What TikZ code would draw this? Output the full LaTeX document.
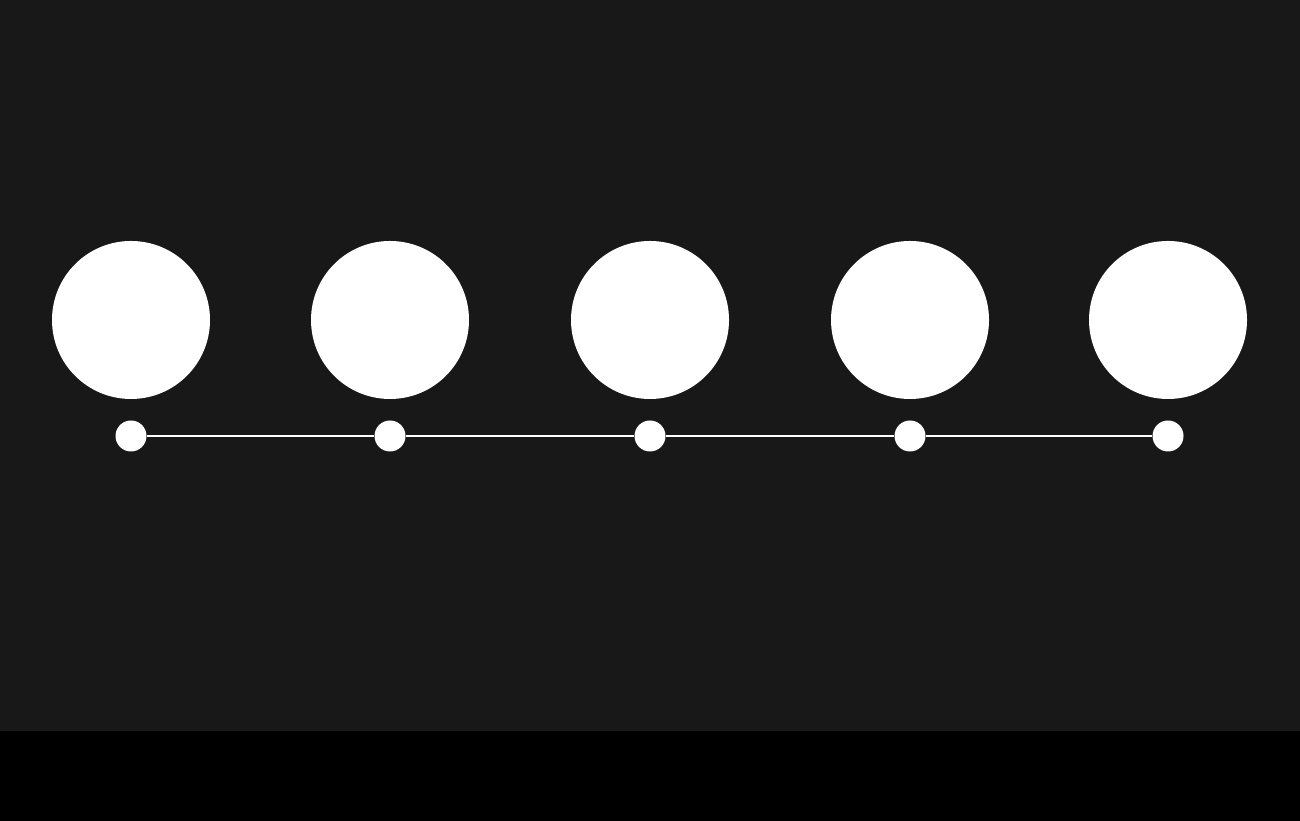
\documentclass[tikz,border=0pt]{standalone}
\usepackage{tikz}
\usetikzlibrary{positioning}
\definecolor{bgdark}{HTML}{181818}
\tikzset{
  bigdot/.style={circle, fill=white, draw=none, minimum size=1.58cm, inner sep=0pt},
  smalldot/.style={circle, fill=white, draw=none, minimum size=0.31cm, inner sep=0pt},
  timeline/.style={white, line width=0.45pt}
}
\begin{document}
\begin{tikzpicture}
  \useasboundingbox (0,0) rectangle (13,8.21);
  % background and bottom band
  \fill[bgdark] (-0.05,-0.05) rectangle (13.05,8.26);
  \fill[black] (-0.05,-0.05) rectangle (13.05,0.90);

  % big circles
  \node[bigdot] (c1) at (1.31,5.01) {};
  \node[bigdot] (c2) at (3.90,5.01) {};
  \node[bigdot] (c3) at (6.50,5.01) {};
  \node[bigdot] (c4) at (9.10,5.01) {};
  \node[bigdot] (c5) at (11.68,5.01) {};

  % timeline dots
  \node[smalldot] (d1) at (1.31,3.85) {};
  \node[smalldot] (d2) at (3.90,3.85) {};
  \node[smalldot] (d3) at (6.50,3.85) {};
  \node[smalldot] (d4) at (9.10,3.85) {};
  \node[smalldot] (d5) at (11.68,3.85) {};

  \draw[timeline] (d1) -- (d2);
  \draw[timeline] (d2) -- (d3);
  \draw[timeline] (d3) -- (d4);
  \draw[timeline] (d4) -- (d5);
\end{tikzpicture}
\end{document}
